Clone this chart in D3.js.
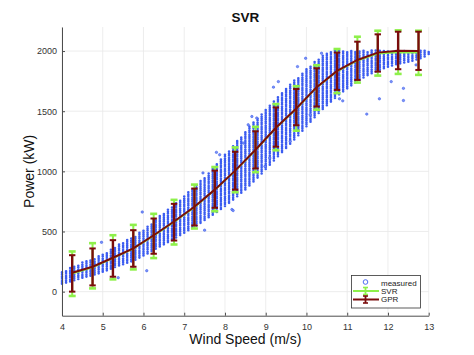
<!DOCTYPE html>
<html><head><meta charset="utf-8">
<script src="https://cdn.jsdelivr.net/npm/d3@7"></script>
<style>body{margin:0;background:#fff} text{font-family:"Liberation Sans",Arial,Helvetica,sans-serif}</style>
</head><body><svg id="c" width="474" height="355"></svg>
<script>
// measured data: wind-speed bins (m/s) with the lower / upper power of the cloud of points (kW)
const binX = [4.0,4.1,4.2,4.3,4.4,4.5,4.6,4.7,4.8,4.9,5.0,5.1,5.2,5.3,5.4,5.5,5.6,5.7,5.8,5.9,
  6.0,6.1,6.2,6.3,6.4,6.5,6.6,6.7,6.8,6.9,7.0,7.1,7.2,7.3,7.4,7.5,7.6,7.7,7.8,7.9,
  8.0,8.1,8.2,8.3,8.4,8.5,8.6,8.7,8.8,8.9,9.0,9.1,9.2,9.3,9.4,9.5,9.6,9.7,9.8,9.9,
  10.0,10.1,10.2,10.3,10.4,10.5,10.6,10.7,10.8,10.9,11.0,11.1,11.2,11.3,11.4,11.5,11.6,11.7,11.8,11.9,
  12.0,12.1,12.2,12.3,12.4,12.5,12.6,12.7,12.8,12.9,13.0];
const binLow = [65,75,85,95,105,115,125,133,142,152,165,177,190,205,217,228,240,252,265,283,
  300,318,337,357,375,393,412,430,450,470,490,510,530,550,572,595,618,640,663,688,
  712,738,765,793,822,850,882,915,948,982,1020,1055,1090,1126,1160,1195,1230,1265,1300,1338,
  1375,1412,1450,1485,1518,1550,1580,1610,1640,1665,1690,1715,1738,1760,1780,1800,1815,1830,1845,1858,
  1870,1880,1890,1898,1905,1912,1920,1930,1940,1955,1975];
const binHigh = [175,185,200,215,230,245,258,270,283,298,315,333,352,373,392,410,430,450,470,495,
  520,545,572,600,628,655,683,712,740,770,800,830,860,890,925,958,992,1028,1063,1100,
  1140,1178,1215,1253,1292,1334,1372,1410,1446,1484,1520,1557,1594,1630,1664,1695,1726,1756,1788,1820,
  1852,1882,1912,1940,1965,1985,2000,2005,2005,2005,2005,2005,2005,2005,2005,2005,2005,2005,2005,2005,
  2005,2005,2005,2005,2005,2005,2005,2005,2005,2005,2005];
// isolated measured points
const outX = [4.97,5.38,5.97,6.08,7.46,7.50,7.79,7.87,8.17,8.2,8.45,8.57,8.66,8.78,8.98,9.1,9.19,9.31,9.6,9.78,9.98,10.09,10.37,10.74,10.81,10.89,11.48,11.79,12.08,12.38,12.38,12.69];
const outY = [410,116,662,174,987,511,1158,1138,683,674,1235,1387,1456,1443,1041,1111,1700,1746,1249,1871,1940,1470,1982,1711,1603,1586,1476,1603,1746,1589,1690,1885];
// model predictions with error bars
const predX = [4.25,4.75,5.25,5.75,6.25,6.75,7.25,7.75,8.25,8.75,9.25,9.75,10.25,10.75,11.25,11.75,12.25,12.75];
const gprMean = [157,207,282,359,469,583,705,848,1006,1180,1362,1522,1700,1835,1926,1987,2003,2000];
const gprLow  = [0,52,124,207,315,425,550,697,848,1024,1205,1383,1539,1677,1760,1829,1849,1843];
const gprHigh = [303,359,428,511,608,730,857,1006,1163,1333,1531,1685,1857,1987,2078,2139,2161,2161];
const svrMean = [150,203,278,357,466,580,702,846,1004,1178,1360,1520,1698,1832,1922,1980,1990,1988];
const svrLow  = [-36,27,102,185,279,392,525,668,826,993,1175,1338,1512,1650,1738,1796,1810,1802];
const svrHigh = [334,403,469,555,647,763,890,1036,1199,1370,1559,1708,1882,2017,2119,2169,2172,2169];
const xTicks = [4,5,6,7,8,9,10,11,12,13];
const yTicks = [0,500,1000,1500,2000];
const legendLabels = ["measured","SVR","GPR"];

const svg = d3.select("#c");
const L = 62, R = 428.7, T = 27, B = 315.7;
const x = d3.scaleLinear().domain([4,13]).range([L,R]);
const y = d3.scaleLinear().domain([-200,2200]).range([B,T]);
const axisCol = "#4d4d4d";
const blue = "#3b5cf0", green = "#8ef04a", red = "#7a0c0c";

// grid
const g = svg.append("g");
g.selectAll(".gx").data(xTicks).join("line")
  .attr("x1", d=>x(d)).attr("x2", d=>x(d)).attr("y1", T).attr("y2", B)
  .attr("stroke", "#e9e9e9").attr("stroke-width", 0.8);
g.selectAll(".gy").data(yTicks).join("line")
  .attr("x1", L).attr("x2", R).attr("y1", d=>y(d)).attr("y2", d=>y(d))
  .attr("stroke", "#e9e9e9").attr("stroke-width", 0.8);

// measured cloud
const bins = binX.map((v,i)=>({x:v, lo:binLow[i], hi:binHigh[i]}));
svg.append("g").selectAll("line").data(bins).join("line")
  .attr("x1", d=>x(d.x)).attr("x2", d=>x(d.x))
  .attr("y1", d=>y(d.lo)).attr("y2", d=>y(d.hi))
  .attr("stroke", blue).attr("stroke-width", 2.6)
  .attr("stroke-linecap", "round").attr("stroke-dasharray", "0 1.9");
svg.append("g").selectAll("circle").data(outX.map((v,i)=>[v,outY[i]])).join("circle")
  .attr("cx", d=>x(d[0])).attr("cy", d=>y(d[1])).attr("r", 1.2)
  .attr("fill", "#7f95f2").attr("stroke", blue).attr("stroke-width", 0.6);

// error bar series
function series(mean, lo, hi, col, capW, capSW, barSW, lineSW){
  const gg = svg.append("g");
  const data = predX.map((v,i)=>({x:v, m:mean[i], lo:lo[i], hi:hi[i]}));
  gg.append("path").datum(data)
    .attr("d", d3.line().x(d=>x(d.x)).y(d=>y(d.m)))
    .attr("fill","none").attr("stroke", col).attr("stroke-width", lineSW);
  gg.selectAll(".v").data(data).join("line")
    .attr("x1", d=>x(d.x)).attr("x2", d=>x(d.x)).attr("y1", d=>y(d.lo)).attr("y2", d=>y(d.hi))
    .attr("stroke", col).attr("stroke-width", barSW);
  ["lo","hi"].forEach(k=>{
    gg.selectAll(".c"+k).data(data).join("line")
      .attr("x1", d=>x(d.x)-capW).attr("x2", d=>x(d.x)+capW)
      .attr("y1", d=>y(d[k])).attr("y2", d=>y(d[k]))
      .attr("stroke", col).attr("stroke-width", capSW);
  });
}
series(svrMean, svrLow, svrHigh, green, 3.5, 2.6, 2, 2);
series(gprMean, gprLow, gprHigh, red, 3.2, 2, 2.4, 2);

// axes
const xa = svg.append("g").attr("transform", `translate(0,${B})`)
  .call(d3.axisBottom(x).tickValues(xTicks).tickFormat(d3.format("d")).tickSize(-3).tickSizeOuter(0).tickPadding(6));
const ya = svg.append("g").attr("transform", `translate(${L},0)`)
  .call(d3.axisLeft(y).tickValues(yTicks).tickFormat(d3.format("d")).tickSize(-3).tickSizeOuter(0).tickPadding(5));
[xa, ya].forEach(a=>{
  a.select(".domain").attr("stroke", axisCol).attr("stroke-width", 1);
  a.selectAll(".tick line").attr("stroke", axisCol);
  a.selectAll("text").attr("fill", "#333").attr("font-size", 9)
    .attr("font-family", '"Liberation Sans",Arial,sans-serif');
});
xa.selectAll(".tick text").attr("dy", "0.9em");

// titles
svg.append("text").attr("x", (L+R)/2).attr("y", 22).attr("text-anchor","middle")
  .attr("font-size", 13.5).attr("font-weight","bold").attr("fill","#111").text("SVR");
svg.append("text").attr("x", (L+R)/2).attr("y", 344).attr("text-anchor","middle")
  .attr("font-size", 14).attr("fill","#111").text("Wind Speed (m/s)");
svg.append("text").attr("transform", `translate(34,${(T+B)/2}) rotate(-90)`).attr("text-anchor","middle")
  .attr("font-size", 14).attr("fill","#111").text("Power (kW)");

// legend
const lg = svg.append("g");
lg.append("rect").attr("x", 351.5).attr("y", 275.5).attr("width", 69).attr("height", 32.5)
  .attr("fill","#fff").attr("stroke","#333").attr("stroke-width",0.8);
const rows = [283, 291, 299.5];
lg.append("circle").attr("cx", 365.5).attr("cy", rows[0]-1).attr("r", 2.3)
  .attr("fill","none").attr("stroke", blue).attr("stroke-width", 0.9);
[[green,1],[red,2]].forEach(([c,i])=>{
  lg.append("line").attr("x1",353).attr("x2",379).attr("y1",rows[i]).attr("y2",rows[i])
    .attr("stroke",c).attr("stroke-width",2);
  lg.append("line").attr("x1",365.5).attr("x2",365.5).attr("y1",rows[i]-3.5).attr("y2",rows[i]+3.5)
    .attr("stroke",c).attr("stroke-width",1.8);
  [-3.5,3.5].forEach(o=>lg.append("line").attr("x1",363).attr("x2",368)
    .attr("y1",rows[i]+o).attr("y2",rows[i]+o).attr("stroke",c).attr("stroke-width",1.6));
});
legendLabels.forEach((t,i)=>{
  lg.append("text").attr("x", 381).attr("y", rows[i]+2.8).attr("font-size", 8)
    .attr("fill","#222").text(t);
});
</script></body></html>
